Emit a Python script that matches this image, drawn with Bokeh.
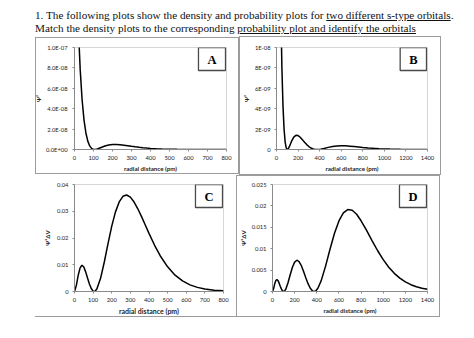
from bokeh.plotting import figure
from bokeh.layouts import column, row
from bokeh.models import Div, FixedTicker, Label, Range1d
from bokeh.embed import file_html
from bokeh.resources import INLINE

# ---------------- data ----------------
title_line1_plain = "1. The following plots show the density and probability plots for "
title_line1_u = "two different s-type orbitals"
title_line2_plain = "Match the density plots to the corresponding "
title_line2_u = "probability plot and identify the orbitals"

x_label = "radial distance (pm)"

# 2s panels (A density, C probability), radial distance in pm
r_2s = [0, 10, 20, 30, 40, 50, 60, 70, 80, 90, 100, 105, 110, 120, 140, 160, 180, 200,
        220, 240, 260, 280, 300, 320, 340, 360, 380, 400, 430, 460, 500, 540, 580,
        620, 660, 700, 750, 800]
psi2_A = [2.688e-7, 1.824e-7, 1.211e-7, 7.83e-8, 4.88e-8, 2.91e-8, 1.62e-8, 8.19e-9,
          3.52e-9, 1.09e-9, 1.2e-10, 2e-12, 5.3e-11, 5.0e-10, 1.99e-9, 3.43e-9, 4.40e-9,
          4.86e-9, 4.89e-9, 4.63e-9, 4.19e-9, 3.66e-9, 3.12e-9, 2.60e-9, 2.13e-9,
          1.72e-9, 1.37e-9, 1.08e-9, 7.4e-10, 5.0e-10, 2.9e-10, 1.7e-10, 9e-11, 5e-11,
          3e-11, 1.5e-11, 7e-12, 3e-12]
prob_C = [0.0, 0.00229, 0.00609, 0.00885, 0.00981, 0.00913, 0.00733, 0.00504, 0.00283,
          0.00111, 0.000153, 0.000003, 0.0000805, 0.000907, 0.00491, 0.01102, 0.01792,
          0.02443, 0.02977, 0.03349, 0.03558, 0.03607, 0.03527, 0.03345, 0.03093,
          0.02799, 0.02486, 0.02173, 0.01728, 0.01338, 0.00922, 0.00612, 0.00395,
          0.00249, 0.00154, 0.000935, 0.000489, 0.000252]

# 3s panels (B density, D probability)
r_3s = [0, 10, 20, 30, 40, 50, 60, 70, 80, 90, 100, 110, 120, 140, 160, 180, 200, 220,
        240, 260, 280, 300, 320, 340, 360, 375, 390, 410, 440, 480, 520, 560, 600, 640,
        680, 720, 760, 800, 850, 900, 950, 1000, 1050, 1100, 1150, 1200, 1250, 1300,
        1350, 1400]
psi2_B = [7.96e-8, 5.40e-8, 3.56e-8, 2.28e-8, 1.394e-8, 8.06e-9, 4.30e-9, 2.02e-9,
          7.55e-10, 1.65e-10, 5e-13, 8.7e-11, 3.02e-10, 8.22e-10, 1.217e-9, 1.391e-9,
          1.365e-9, 1.202e-9, 9.67e-10, 7.14e-10, 4.80e-10, 2.88e-10, 1.47e-10, 5.5e-11,
          9.6e-12, 9e-15, 7.2e-12, 3.6e-11, 1.05e-10, 2.07e-10, 2.92e-10, 3.45e-10,
          3.65e-10, 3.56e-10, 3.29e-10, 2.91e-10, 2.49e-10, 2.06e-10, 1.57e-10, 1.16e-10,
          8.4e-11, 5.9e-11, 4.1e-11, 2.8e-11, 1.9e-11, 1.2e-11, 8e-12, 5e-12, 3e-12, 2e-12]
prob_D = [0.0, 0.000678, 0.00179, 0.00257, 0.00280, 0.00253, 0.00195, 0.00124, 0.000607,
          0.000168, 0.0000006, 0.000132, 0.000546, 0.00203, 0.00392, 0.00566, 0.00686,
          0.00731, 0.00700, 0.00606, 0.00473, 0.00326, 0.00189, 0.000806, 0.000157,
          0.0000002, 0.000138, 0.000766, 0.00254, 0.00599, 0.00993, 0.01360, 0.01650,
          0.01835, 0.01915, 0.01897, 0.01804, 0.01653, 0.01428, 0.01184, 0.00952,
          0.00744, 0.00568, 0.00424, 0.00311, 0.00224, 0.00159, 0.00112, 0.000773,
          0.000530]

xticks_800 = [0, 100, 200, 300, 400, 500, 600, 700, 800]
xticks_1400 = [0, 200, 400, 600, 800, 1000, 1200, 1400]

yticks_A = [0, 2e-8, 4e-8, 6e-8, 8e-8, 1e-7]
ylabels_A = ["0.0E+00", "2.0E-08", "4.0E-08", "6.0E-08", "8.0E-08", "1.0E-07"]
yticks_B = [0, 2e-9, 4e-9, 6e-9, 8e-9, 1e-8]
ylabels_B = ["0", "2E-09", "4E-09", "6E-09", "8E-09", "1E-08"]
yticks_C = [0, 0.01, 0.02, 0.03, 0.04]
ylabels_C = ["0", "0.01", "0.02", "0.03", "0.04"]
yticks_D = [0, 0.005, 0.01, 0.015, 0.02, 0.025]
ylabels_D = ["0", "0.005", "0.01", "0.015", "0.02", "0.025"]

FONT = "Lato"
BORDER = "#9c9c9c"


def lines_css(segments):
    """Panel border lines drawn as CSS background layers: (left, top, width, height) px."""
    g = f"linear-gradient({BORDER},{BORDER})"
    return ", ".join(f"{g} {l}px {t}px / {w}px {h}px no-repeat" for (l, t, w, h) in segments)


def panel(w, h, xs, ys, xmax, ymax, xticks, yticks, ylabels, ylab, letter, segs,
          mbl, mbr, mbt, mbb, ystand, ylab_stand, xlab_size):
    p = figure(width=w, height=h, x_range=Range1d(0, xmax), y_range=Range1d(0, ymax),
               output_backend="svg", toolbar_location=None,
               min_border_left=mbl, min_border_right=mbr,
               min_border_top=mbt, min_border_bottom=mbb,
               margin=0, styles={"background": lines_css(segs)})
    p.border_fill_color = None
    p.background_fill_color = "white"
    p.outline_line_color = "#d6d6d6"
    p.outline_line_width = 1
    p.xgrid.visible = False
    p.ygrid.visible = False
    p.line(xs, ys, line_color="black", line_width=1.5)

    for ax in (p.xaxis[0], p.yaxis[0]):
        ax.axis_line_color = "#8a8a8a"
        ax.major_tick_line_color = "#8a8a8a"
        ax.major_tick_out = 2
        ax.major_tick_in = 0
        ax.minor_tick_out = 0
        ax.minor_tick_in = 0
        ax.major_label_text_font = FONT
        ax.major_label_text_font_size = "5.8px"
        ax.major_label_text_color = "#222222"
        ax.axis_label_text_font = FONT
        ax.axis_label_text_font_style = "bold"
        ax.axis_label_text_color = "#1e1e1e"

    p.xaxis.ticker = FixedTicker(ticks=xticks)
    p.xaxis.major_label_standoff = 4
    p.xaxis.axis_label = x_label
    p.xaxis.axis_label_text_font_size = xlab_size
    p.xaxis.axis_label_standoff = 2

    p.yaxis.ticker = FixedTicker(ticks=yticks)
    p.yaxis.major_label_overrides = dict(zip(yticks, ylabels))
    p.yaxis.major_label_standoff = ystand
    p.yaxis.axis_label = ylab
    p.yaxis.axis_label_text_font_size = "6px"
    p.yaxis.axis_label_standoff = ylab_stand

    lab = Label(x=xmax, y=ymax, text=letter, anchor="top_right",
                text_font="Liberation Serif", text_font_style="bold",
                text_font_size="12.5px", text_color="black",
                background_fill_color="white", border_line_color="#4a4a4a",
                border_line_width=1.3,
                padding=dict(left=9, right=9, top=5, bottom=4),
                x_offset=-1, y_offset=0)
    p.add_layout(lab)
    return p


# panel border segments, relative to each figure's own box
segs_A = [(35, 1, 204, 1), (35, 1, 1, 137), (35, 137, 204, 1), (238, 1, 1, 137)]
segs_B = [(0, 0, 202, 1), (0, 0, 1, 139), (0, 138, 202, 1), (201, 0, 1, 139)]
segs_C = [(35, 141, 201, 1)]
segs_D = [(0, 0, 204, 1), (0, 0, 1, 142), (0, 141, 204, 1), (203, 0, 1, 142)]

pA = panel(239, 139, r_2s, psi2_A, 800, 1e-7, xticks_800, yticks_A, ylabels_A, "Ψ²", "A",
           segs_A, 74, 13, 11, 23, 5, 1, "6.2px")
pB = panel(235, 139, r_3s, psi2_B, 1400, 1e-8, xticks_1400, yticks_B, ylabels_B, "Ψ²", "B",
           segs_B, 33, 47, 8, 26, 4, 2, "6.2px")
pC = panel(236, 163, r_2s, prob_C, 800, 0.04, xticks_800, yticks_C, ylabels_C, "Ψ²ΔV", "C",
           segs_C, 74, 13, 9, 47, 4, 3, "7px")
pD = panel(238, 163, r_3s, prob_D, 1400, 0.025, xticks_1400, yticks_D, ylabels_D, "Ψ²ΔV", "D",
           segs_D, 35, 47, 9, 47, 4, 2, "6.2px")

title_html = (
    '<div style="font-family:\'Liberation Serif\',serif;font-size:11.2px;line-height:13px;'
    'color:#111;white-space:nowrap;padding:9px 0 0 35px;">'
    f'{title_line1_plain}<u>{title_line1_u}</u>.<br>'
    f'{title_line2_plain}<u>{title_line2_u}</u></div>'
)
title = Div(text=title_html, width=474, height=36, margin=0)

layout = column(title, row(pA, pB, spacing=0), row(pC, pD, spacing=0), spacing=0)

open("out.html", "w").write(file_html(layout, INLINE))
